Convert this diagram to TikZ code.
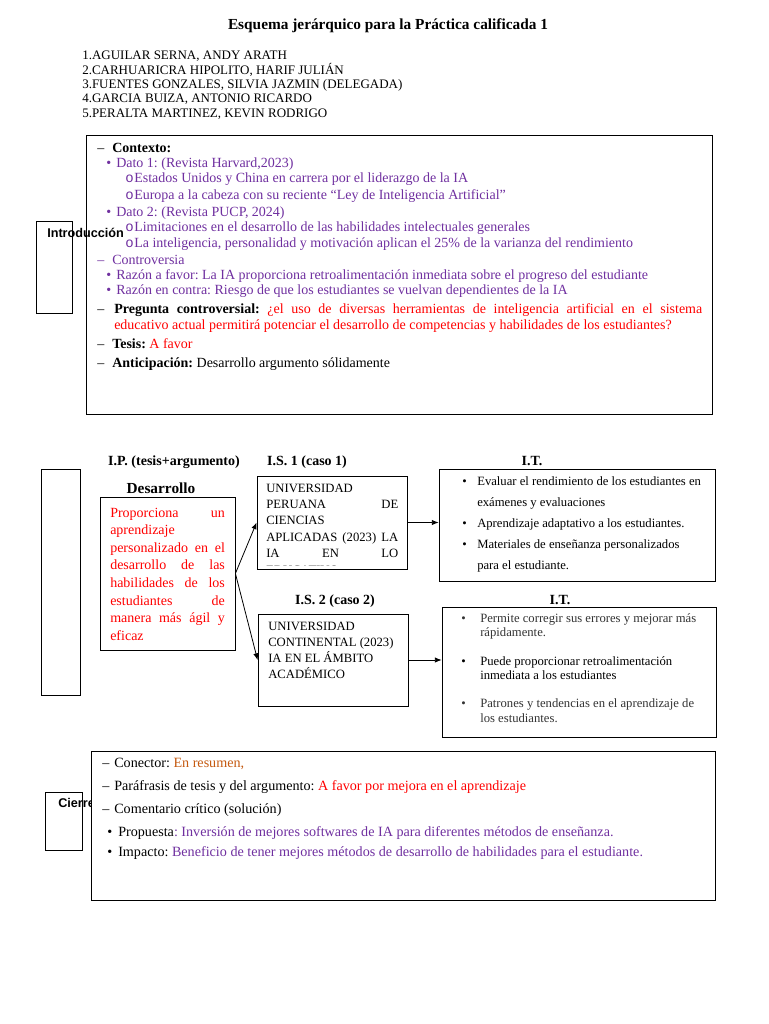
\documentclass[tikz,border=0pt]{standalone}
\usepackage{fontspec}
\setmainfont{Liberation Serif}
\newfontfamily\tagfont{Liberation Sans}
\newfontfamily\ofont{Liberation Mono}
\usetikzlibrary{arrows.meta, fit}
\frenchspacing
\definecolor{mPurple}{HTML}{7030A0}
\definecolor{mRed}{HTML}{FF0000}
\definecolor{mOrange}{HTML}{C55A11}
\definecolor{mGrey}{HTML}{333333}
\newcommand{\dsh}{\makebox[11.25pt][l]{–}}
\newcommand{\bul}{\makebox[7.5pt][l]{•}}
\newcommand{\subo}{\makebox[6.75pt][l]{\ofont o}}

\begin{document}
\begin{tikzpicture}[x=0.75pt, y=-0.75pt, >={Latex[length=5pt, width=4pt]},
  box/.style={draw, line width=0.6pt, inner sep=0pt},
  txt/.style={anchor=base west, inner sep=0pt, font=\fontsize{10.5}{12}\selectfont},
  small/.style={txt, font=\fontsize{9.5}{11}\selectfont},
  closing/.style={txt, font=\fontsize{10.6}{12}\selectfont},
  hd/.style={anchor=base, inner sep=0pt, font=\fontsize{10.5}{12}\selectfont\bfseries},
  tag/.style={anchor=base west, inner sep=0pt, font=\tagfont\bfseries\fontsize{9.5}{11}\selectfont}]
  \useasboundingbox[fill=white] (0,0) rectangle (768,1024);

  % title and group
  \node[hd, font=\fontsize{11.5}{13}\selectfont\bfseries] (title) at (388,30)
    {Esquema jerárquico para la Práctica calificada 1};
  \foreach \n [count=\i] in {{AGUILAR SERNA, ANDY ARATH}, {CARHUARICRA HIPOLITO, HARIF JULIÁN},
      {FUENTES GONZALES, SILVIA JAZMIN (DELEGADA)}, {GARCIA BUIZA, ANTONIO RICARDO},
      {PERALTA MARTINEZ, KEVIN RODRIGO}}
    \node[txt, font=\fontsize{9.75}{11}\selectfont] (name\i) at (82,{45.7+14.3*\i}) {\i.\n};

  % introduccion
  \node[box, fit={(86,135) (712,414)}] (intro) {};
  \node[box, fit={(36,221) (72,313)}] (introtag) {};
  \node[tag] (introlbl) at (47,237) {Introducción};
  \node[txt] (ctx) at (97,152) {\dsh\textbf{Contexto:}};
  \node[txt, mPurple] (dato1) at (106,167) {\bul Dato 1: (Revista Harvard,2023)};
  \node[txt, mPurple] (d1a) at (125,182) {\subo Estados Unidos y China en carrera por el liderazgo de la IA};
  \node[txt, mPurple] (d1b) at (125,199) {\subo Europa a la cabeza con su reciente “Ley de Inteligencia Artificial”};
  \node[txt, mPurple] (dato2) at (106,216) {\bul Dato 2: (Revista PUCP, 2024)};
  \node[txt, mPurple] (d2a) at (125,231) {\subo Limitaciones en el desarrollo de las habilidades intelectuales generales};
  \node[txt, mPurple] (d2b) at (125,247) {\subo La inteligencia, personalidad y motivación aplican el 25\% de la varianza del rendimiento};
  \node[txt, mPurple] (contro) at (97,264) {\dsh Controversia};
  \node[txt, mPurple] (favor) at (106,279) {\bul Razón a favor: La IA proporciona retroalimentación inmediata sobre el progreso del estudiante};
  \node[txt, mPurple] (contra) at (106,294) {\bul Razón en contra: Riesgo de que los estudiantes se vuelvan dependientes de la IA};
  \node[txt] (preg) at (97,313) {\makebox[12.75pt][l]{–}\hbox to 441pt{\textbf{Pregunta controversial:}
    \color{mRed}¿el uso de diversas herramientas de inteligencia artificial en el sistema}};
  \node[txt, mRed] (preg2) at (114,329) {educativo actual permitirá potenciar el desarrollo de competencias y habilidades de los estudiantes?};
  \node[txt] (tesis) at (97,348) {\dsh\textbf{Tesis:} \textcolor{mRed}{A favor}};
  \node[txt] (antic) at (97,367) {\dsh\textbf{Anticipación:} Desarrollo argumento sólidamente};

  % desarrollo
  \node[box, fit={(41,469) (80,695)}] (devtag) {};
  \node[hd] (iphd) at (174,465) {I.P. (tesis+argumento)};
  \node[hd] (is1hd) at (307,465) {I.S. 1 (caso 1)};
  \node[hd] (it1hd) at (532,465) {I.T.};
  \node[hd, font=\fontsize{11.5}{13}\selectfont\bfseries] (devhd) at (161,493) {Desarrollo};
  \node[box, fit={(100,497) (235,650)}] (ip) {};
  \foreach \t [count=\i] in {{Proporciona un}, aprendizaje, {personalizado en el}, {desarrollo de las},
      {habilidades de los}, {estudiantes de}, {manera más ágil y}, eficaz}
    \node[txt, mRed] (ip\i) at (110,{499.4+17.6*\i}) {\hbox to 86pt{\t}};
  \node[box, fit={(257,476) (407,569)}] (is1) {};
  \begin{scope}
    \clip (257,476) rectangle (407,565.5);
    \foreach \t [count=\i] in {UNIVERSIDAD, {PERUANA DE}, CIENCIAS, {APLICADAS (2023) LA}, {IA EN LO}, EDUCATIVO}
      \node[small] (is1l\i) at (266,{475.6+16.4*\i}) {\hbox to 99pt{\t}};
  \end{scope}
  \node[hd] (is2hd) at (335,604) {I.S. 2 (caso 2)};
  \node[box, fit={(258,614) (408,706)}] (is2) {};
  \foreach \t [count=\i] in {UNIVERSIDAD, {CONTINENTAL (2023)}, {IA EN EL ÁMBITO}, ACADÉMICO}
    \node[small] (is2l\i) at (268,{613.7+16.3*\i}) {\t};
  \node[box, fit={(439,469) (715,581)}] (it1) {};
  \node[small] (it1a) at (462,485) {\makebox[11.25pt][l]{•}Evaluar el rendimiento de los estudiantes en};
  \node[small] (it1b) at (477,506) {exámenes y evaluaciones};
  \node[small] (it1c) at (462,527) {\makebox[11.25pt][l]{•}Aprendizaje adaptativo a los estudiantes.};
  \node[small] (it1d) at (462,548) {\makebox[11.25pt][l]{•}Materiales de enseñanza personalizados};
  \node[small] (it1e) at (477,569) {para el estudiante.};
  \node[hd] (it2hd) at (560,604) {I.T.};
  \node[box, fit={(442,607) (716,737)}] (it2) {};
  \node[small, mGrey] (it2a) at (461,622) {\makebox[14.25pt][l]{•}Permite corregir sus errores y mejorar más};
  \node[small, mGrey] (it2b) at (480,636) {rápidamente.};
  \node[small] (it2c) at (461,665) {\makebox[14.25pt][l]{•}Puede proporcionar retroalimentación};
  \node[small] (it2d) at (480,679) {inmediata a los estudiantes};
  \node[small, mGrey] (it2e) at (461,707) {\makebox[14.25pt][l]{•}Patrones y tendencias en el aprendizaje de};
  \node[small, mGrey] (it2f) at (480,722) {los estudiantes.};
  \draw[->, line width=0.6pt] (ip.east) -- (is1.west);
  \draw[->, line width=0.6pt] (ip.east) -- (is2.west);
  \draw[->, line width=0.6pt] (is1.east) -- (is1.east -| it1.west);
  \draw[->, line width=0.6pt] (is2.east) -- (is2.east -| it2.west);

  % cierre
  \node[box, fit={(45,792) (82,850)}] (closetag) {};
  \node[tag] (closelbl) at (58,807) {Cierre};
  \node[box, fill=white, fit={(91,751) (715,900)}] (close) {};
  \node[closing] (conec) at (102,767) {\makebox[9pt][l]{–}Conector: \textcolor{mOrange}{En resumen,}};
  \node[closing] (para) at (102,790)
    {\makebox[9pt][l]{–}Paráfrasis de tesis y del argumento: \textcolor{mRed}{A favor por mejora en el aprendizaje}};
  \node[closing] (coment) at (102,813) {\makebox[9pt][l]{–}Comentario crítico (solución)};
  \node[closing] (prop) at (107,836)
    {\makebox[8.25pt][l]{•}Propuesta\textcolor{mPurple}{: Inversión de mejores softwares de IA para diferentes métodos de enseñanza.}};
  \node[closing] (impac) at (107,856)
    {\makebox[8.25pt][l]{•}Impacto: \textcolor{mPurple}{Beneficio de tener mejores métodos de desarrollo de habilidades para el estudiante.}};
\end{tikzpicture}
\end{document}
